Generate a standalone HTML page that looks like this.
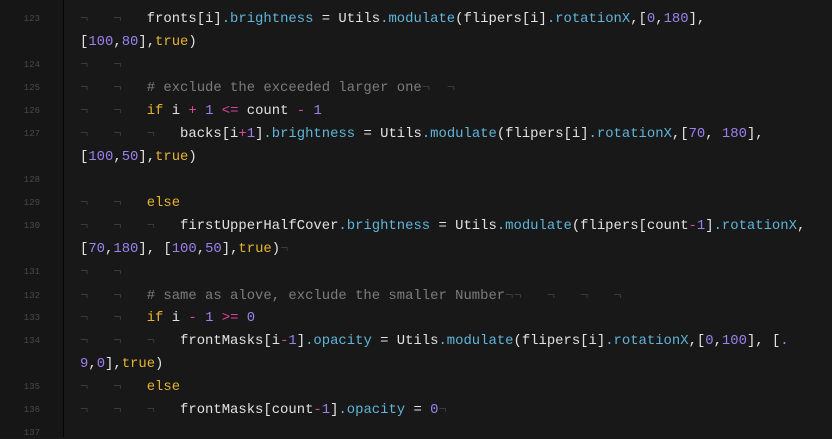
<!DOCTYPE html>
<html><head><meta charset="utf-8"><style>
html,body{margin:0;padding:0;background:#181818;}
body{width:832px;height:437px;position:relative;overflow:hidden;font-family:"Liberation Mono",monospace;}
.g{position:absolute;left:0;top:0;width:63px;height:437px;background:#161616;border-right:1px solid #050505;}
.n{position:absolute;left:0;width:40px;text-align:right;font-size:9px;color:#4a4a4a;line-height:12px;}
.l{position:absolute;left:80px;white-space:pre;font-size:13.9px;line-height:18px;color:#e2e2e2;}
.t{color:#3a3a3a;}
.p{color:#5fb5da;}
.d{color:#9b82ee;}
.k{color:#e6b42c;}
.o{color:#e0449c;}
.c{color:#7c7c7c;}
</style></head><body>
<div class="g"></div>
<div class="n" style="top:13px">123</div>
<div class="n" style="top:59px">124</div>
<div class="n" style="top:82px">125</div>
<div class="n" style="top:105px">126</div>
<div class="n" style="top:128px">127</div>
<div class="n" style="top:174px">128</div>
<div class="n" style="top:197px">129</div>
<div class="n" style="top:220px">130</div>
<div class="n" style="top:266px">131</div>
<div class="n" style="top:290px">132</div>
<div class="n" style="top:312px">133</div>
<div class="n" style="top:335px">134</div>
<div class="n" style="top:381px">135</div>
<div class="n" style="top:404px">136</div>
<div class="n" style="top:427px">137</div>

<div class="l" style="top:10px"><span class="t">¬   ¬   </span>fronts[i]<span class="p">.brightness</span> = Utils<span class="p">.modulate</span>(flipers[i]<span class="p">.rotationX</span>,[<span class="d">0</span>,<span class="d">180</span>],</div>
<div class="l" style="top:33px">[<span class="d">100</span>,<span class="d">80</span>],<span class="k">true</span>)</div>
<div class="l" style="top:56px"><span class="t">¬   ¬</span></div>
<div class="l" style="top:79px"><span class="t">¬   ¬   </span><span class="c"># exclude the exceeded larger one</span><span class="t">¬  ¬</span></div>
<div class="l" style="top:102px"><span class="t">¬   ¬   </span><span class="k">if</span> i <span class="o">+</span> <span class="d">1</span> <span class="o">&lt;=</span> count <span class="o">-</span> <span class="d">1</span></div>
<div class="l" style="top:125px"><span class="t">¬   ¬   ¬   </span>backs[i<span class="o">+</span><span class="d">1</span>]<span class="p">.brightness</span> = Utils<span class="p">.modulate</span>(flipers[i]<span class="p">.rotationX</span>,[<span class="d">70</span>, <span class="d">180</span>],</div>
<div class="l" style="top:148px">[<span class="d">100</span>,<span class="d">50</span>],<span class="k">true</span>)</div>
<div class="l" style="top:194px"><span class="t">¬   ¬   </span><span class="k">else</span></div>
<div class="l" style="top:217px"><span class="t">¬   ¬   ¬   </span>firstUpperHalfCover<span class="p">.brightness</span> = Utils<span class="p">.modulate</span>(flipers[count<span class="o">-</span><span class="d">1</span>]<span class="p">.rotationX</span>,</div>
<div class="l" style="top:240px">[<span class="d">70</span>,<span class="d">180</span>], [<span class="d">100</span>,<span class="d">50</span>],<span class="k">true</span>)<span class="t">¬</span></div>
<div class="l" style="top:263px"><span class="t">¬   ¬</span></div>
<div class="l" style="top:287px"><span class="t">¬   ¬   </span><span class="c"># same as alove, exclude the smaller Number</span><span class="t">¬¬   ¬   ¬   ¬</span></div>
<div class="l" style="top:309px"><span class="t">¬   ¬   </span><span class="k">if</span> i <span class="o">-</span> <span class="d">1</span> <span class="o">&gt;=</span> <span class="d">0</span></div>
<div class="l" style="top:332px"><span class="t">¬   ¬   ¬   </span>frontMasks[i<span class="o">-</span><span class="d">1</span>]<span class="p">.opacity</span> = Utils<span class="p">.modulate</span>(flipers[i]<span class="p">.rotationX</span>,[<span class="d">0</span>,<span class="d">100</span>], [<span class="d">.</span></div>
<div class="l" style="top:355px"><span class="d">9</span>,<span class="d">0</span>],<span class="k">true</span>)</div>
<div class="l" style="top:378px"><span class="t">¬   ¬   </span><span class="k">else</span></div>
<div class="l" style="top:401px"><span class="t">¬   ¬   ¬   </span>frontMasks[count<span class="o">-</span><span class="d">1</span>]<span class="p">.opacity</span> = <span class="d">0</span><span class="t">¬</span></div>
</body></html>
